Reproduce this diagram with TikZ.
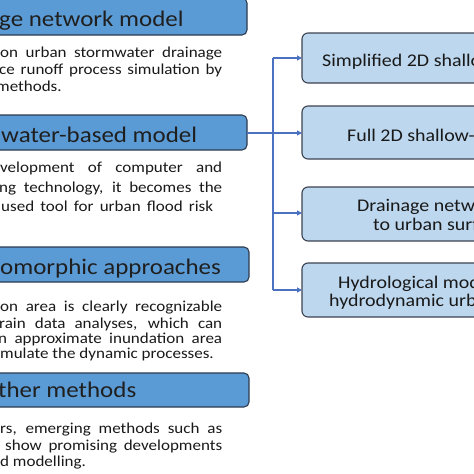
\documentclass[tikz,border=0pt]{standalone}
\usepackage{fontspec}
\setmainfont{Carlito}
\newfontfamily\widefont[FakeStretch=1.12]{Carlito}
\usetikzlibrary{arrows.meta}
\definecolor{darkfill}{HTML}{5B9BD5}
\definecolor{darkline}{HTML}{2E3B4E}
\definecolor{lightfill}{HTML}{BDD7EE}
\definecolor{lightline}{HTML}{3C4350}
\definecolor{arrowc}{HTML}{4A72C0}
\tikzset{
  headbox/.style={draw=darkline, fill=darkfill, line width=1.1pt, rounded corners=5pt},
  subbox/.style={draw=lightline, fill=lightfill, line width=1.1pt, rounded corners=6pt},
  headtext/.style={anchor=base west, inner sep=0pt, font=\widefont\fontsize{22.3}{26}\selectfont, text=black!88},
  bodytext/.style={anchor=base west, inner sep=0pt, font=\widefont\fontsize{15.2}{18}\selectfont, text=black!90},
  subtext/.style={anchor=base west, inner sep=0pt, font=\widefont\fontsize{17.8}{21}\selectfont, text=black!90},
  conn/.style={draw=arrowc, line width=1.1pt},
  arr/.style={conn, -{Triangle[length=5pt,width=5pt]}}
}
\begin{document}
\begin{tikzpicture}[x=1pt,y=-1pt]
\useasboundingbox (0,0) rectangle (474,474);
\clip (0,0) rectangle (474,474);
% left heading boxes
\draw[headbox] (-20,-2) rectangle (247,35);
\draw[headbox] (-20,115) rectangle (247,150);
\draw[headbox] (-20,247) rectangle (249,282);
\draw[headbox] (-20,373) rectangle (249,407);
\coordinate (h2e) at (247,133);
\node[headtext] (t1) at (-1,26.7) {ge network model};
\node[headtext] (t2) at (1,142.5) {water-based model};
\node[headtext] (t3) at (0,274.5) {omorphic approaches};
\node[headtext] (t4) at (-2,397) {ther methods};
% body texts
\node[bodytext] (b11) at (0,57) {\makebox[222pt][s]{on urban stormwater drainage}};
\node[bodytext] (b12) at (-1,74) {\makebox[223pt][s]{ce runoff process simulation by}};
\node[bodytext] (b13) at (-4,91) {methods.};
\node[bodytext] (b21) at (0,172) {\makebox[222pt][s]{velopment of computer and}};
\node[bodytext] (b22) at (-1,192) {\makebox[223pt][s]{ng technology, it becomes the}};
\node[bodytext] (b23) at (1,211) {\makebox[212pt][s]{used tool for urban flood risk}};
\node[bodytext] (b31) at (0,311) {\makebox[222pt][s]{on area is clearly recognizable}};
\node[bodytext] (b32) at (-1,328) {\makebox[223pt][s]{rain data analyses, which can}};
\node[bodytext] (b33) at (-2,343) {\makebox[224pt][s]{n approximate inundation area}};
\node[bodytext] (b34) at (0,358) {mulate the dynamic processes.};
\node[bodytext] (b41) at (0,433) {\makebox[222pt][s]{rs, emerging methods such as}};
\node[bodytext] (b42) at (5,450) {\makebox[217pt][s]{show promising developments}};
\node[bodytext] (b43) at (0,466) {d modelling.};
% right sub boxes
\draw[subbox] (302,33) rectangle (500,83);
\draw[subbox] (302,106) rectangle (500,159);
\draw[subbox] (302,187) rectangle (500,241);
\draw[subbox] (302,263) rectangle (500,317);
\coordinate (sa) at (302,58);
\coordinate (sb) at (302,133);
\coordinate (sc) at (302,213);
\coordinate (sd) at (302,290);
\node[subtext] (r1) at (322,66) {Simplified 2D shallo};
\node[subtext] (r2) at (347,141.5) {Full 2D shallow-w};
\node[subtext] (r3a) at (357,211.5) {Drainage netwo};
\node[subtext] (r3b) at (373,230.5) {to urban surf};
\node[subtext] (r4a) at (338,288.5) {Hydrological mod};
\node[subtext] (r4b) at (329,306.5) {hydrodynamic urb};
% connectors
\coordinate (jt) at (273,58);
\coordinate (jm) at (273,133);
\coordinate (jc) at (273,213);
\coordinate (jb) at (273,290);
\draw[conn] (h2e) -- (jm);
\draw[conn] (jt) -- (jb);
\draw[arr] (jt) -- (sa);
\draw[arr] (jm) -- (sb);
\draw[arr] (jc) -- (sc);
\draw[arr] (jb) -- (sd);
\end{tikzpicture}
\end{document}
